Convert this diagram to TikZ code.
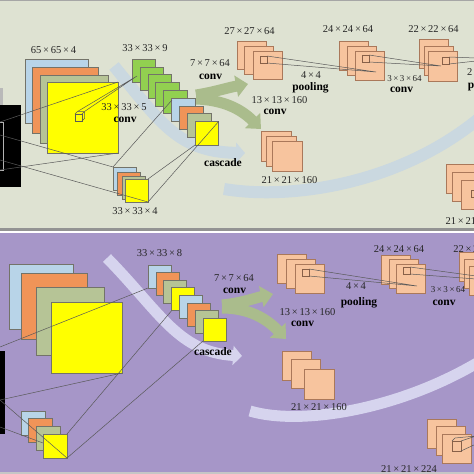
\documentclass[tikz,border=0pt]{standalone}
\usepackage{fontspec}
\setmainfont{Liberation Serif}
\usetikzlibrary{arrows.meta}
\definecolor{bgtop}{RGB}{222,226,210}
\definecolor{bgbot}{RGB}{166,150,200}
\definecolor{cblue}{RGB}{184,212,232}
\definecolor{corange}{RGB}{240,148,88}
\definecolor{colive}{RGB}{182,196,150}
\definecolor{cyellow}{RGB}{255,255,0}
\definecolor{cgreen}{RGB}{146,208,80}
\definecolor{cpeach}{RGB}{247,196,158}
\definecolor{cpeachb}{RGB}{170,120,90}
\definecolor{bandtop}{RGB}{202,216,224}
\definecolor{bandbot}{RGB}{214,212,238}
\definecolor{forkc}{RGB}{170,188,140}
\definecolor{edgec}{RGB}{115,115,105}
\newcommand{\byx}{\hspace{0.17em}×\hspace{0.17em}}
\tikzset{
  box/.style={draw=edgec, line width=0.5pt, inner sep=0pt, outer sep=0pt, anchor=north west},
  sz/.style={minimum width=#1, minimum height=#1},
  wh/.style n args={2}{minimum width=#1, minimum height=#2},
  pe/.style={box, draw=cpeachb, fill=cpeach},
  pesm/.style={draw=cpeachb!80!black, line width=0.5pt, inner sep=0pt, outer sep=0pt, anchor=north west, minimum width=7pt, minimum height=7pt},
  lbl/.style={font=\fontsize{10.5}{12}\selectfont, text=black!85, inner sep=0pt},
  slbl/.style={font=\fontsize{9}{10}\selectfont, text=black!85, inner sep=0pt},
  blbl/.style={font=\bfseries\fontsize{11.5}{13}\selectfont, text=black, inner sep=0pt},
  conn/.style={draw=black!65, line width=0.5pt},
  bandT/.style={draw=bandtop, line width=12pt},
  bandB/.style={draw=bandbot, line width=11pt},
  forkarr/.style={draw=forkc, line width=11pt, -{Triangle[width=21pt,length=12pt]}}
}
\begin{document}
\begin{tikzpicture}[x=1pt,y=-1pt]
\useasboundingbox (0,0) rectangle (474,474);
\clip (0,0) rectangle (474,474);
% backgrounds
\fill[bgtop] (0,0) rectangle (474,228);
\fill[black!35] (0,0) rectangle (474,1.2);
\fill[gray!85] (0,228) rectangle (474,230.5);
\fill[white] (0,230.5) rectangle (474,232.5);
\fill[bgbot] (0,232.5) rectangle (474,474);
\fill[gray!45] (0,471.8) rectangle (474,474);

% ---------- bands ----------
\draw[bandT, -{Triangle[width=20pt,length=9pt]}] (114,66) .. controls (160,122) and (178,152) .. (245,153);
\draw[bandT] (224,189) .. controls (290,200) and (400,185) .. (482,116);
\draw[bandB, -{Triangle[width=19pt,length=9pt]}] (107,258) .. controls (160,312) and (178,352) .. (242,356);
\draw[bandB] (250,411) .. controls (300,426) and (400,410) .. (482,360);

% ---------- forks ----------
\draw[forkarr] (196,95) .. controls (215,92) and (226,88) .. (248,84);
\draw[forkarr] (196,99) .. controls (222,100) and (240,108) .. (261,129);
\draw[forkarr] (222,305) .. controls (242,303) and (255,298) .. (273,294);
\draw[forkarr] (222,308) .. controls (248,308) and (266,318) .. (286,339);

% ================= TOP PANEL =================
\fill[gray!55] (0,88) rectangle (3,105);
\node[box, draw=none, fill=black, wh={21pt}{82pt}] (tIn) at (0,105) {};
\draw[gray!60, line width=0.5pt] (-1,122) rectangle (3,170);

\node[box, fill=cblue,   wh={63pt}{64pt}] (tB1) at (25,59) {};
\node[box, fill=corange, sz=66pt] (tB2) at (32,67) {};
\node[box, fill=colive,  sz=68pt] (tB3) at (40,75) {};
\node[box, fill=cyellow, sz=71pt] (tB4) at (47,82) {};

\foreach \c [count=\i] in {cgreen,cgreen,cgreen,cgreen,cgreen,cblue,corange,colive,cyellow}
  \node[box, fill=\c, sz=23.5pt] (t9-\i) at ({132+7.9*(\i-1)},{59+7.8*(\i-1)}) {};

\node[box, fill=cblue,   sz=23pt] (t4-1) at (113,167) {};
\node[box, fill=corange, sz=23pt] (t4-2) at (117,172) {};
\node[box, fill=colive,  sz=23pt] (t4-3) at (122,176) {};
\node[box, fill=cyellow, sz=23pt] (t4-4) at (125,179) {};

% small cube in big yellow
\node[box, draw=edgec!80!black, sz=7pt] (tcube) at (75,114) {};
\coordinate (tcA) at (77.5,111.5);
\coordinate (tcB) at (84.5,111.5);
\draw[conn] (tcube.north west) -- (tcA) -- (tcB) -- (tcube.north east) (tcB) -- (84.5,118.5) -- (tcube.south east);
\coordinate (t9tgt) at (137,76);
\draw[conn] (tcA) -- (t9tgt) (tcB) -- (t9tgt);

% peach stacks top
\node[pe, wh={29pt}{28pt}] (t27-1) at (237,41) {};
\node[pe, wh={29pt}{28pt}] (t27-2) at (244,46) {};
\node[pe, wh={29pt}{28pt}] (t27-3) at (253,51) {};
\node[pesm] (t27s) at (260,56) {};
\node[pe, wh={29pt}{29pt}] (t24-1) at (339,41) {};
\node[pe, wh={29pt}{29pt}] (t24-2) at (347,46) {};
\node[pe, wh={29pt}{29pt}] (t24-3) at (355,51) {};
\node[pesm] (t24s) at (362,55) {};
\node[pe, wh={29pt}{29pt}] (t22-1) at (419,39) {};
\node[pe, wh={29pt}{29pt}] (t22-2) at (424,46) {};
\node[pe, wh={29pt}{30pt}] (t22-3) at (428,51) {};
\node[pesm] (t22s) at (442,57) {};
\node[pe, sz=30pt] (t160-1) at (261,131) {};
\node[pe, sz=30pt] (t160-2) at (266,136) {};
\node[pe, sz=30pt] (t160-3) at (272,141) {};
\node[pe, sz=29pt] (t224-1) at (446,164) {};
\node[pe, sz=29pt] (t224-2) at (452,172) {};
\node[pe, sz=29pt] (t224-3) at (461,180) {};
\node[pesm] (t224s) at (471,190) {};

% connectors top
\coordinate (tI1) at (0,122);
\coordinate (tI2) at (0,135);
\coordinate (tI3) at (0,160);
\coordinate (tI4) at (0,170);
\draw[conn] (tI1) -- (tB4.north east);
\draw[conn] (tI2) -- (t4-1.north west);
\draw[conn] (tI4) -- (tB4.south east);
\draw[conn] (tI3) -- (t4-4.south east);
\coordinate (t9blue) at (172,100);
\draw[conn] (t4-1.north west) -- (t9blue);
\draw[conn] (t4-4.north east) -- (t9-9.south west);
\draw[conn] (t4-4.south east) -- (t9-9.north east);
\coordinate (t24tgt) at (376,72);
\coordinate (t22tgt) at (441,66);
\coordinate (tR1) at (476,58);
\coordinate (tR2) at (476,61);
\draw[conn] (t27s.north east) -- (t24tgt) (t27s.south east) -- (t24tgt);
\draw[conn] (t24s.north east) -- (t22tgt) (t24s.south east) -- (t22tgt);
\draw[conn] (t22s.north east) -- (tR1) (t22s.south east) -- (tR2);

% labels top
\node[lbl] (L1) at (53.5,50) {65\byx65\byx4};
\node[lbl] (L2) at (145,48) {33\byx33\byx9};
\node[lbl] (L3) at (124,107) {33\byx33\byx5};
\node[blbl] (L4) at (125,119.5) {conv};
\node[lbl] (L5) at (135,211) {33\byx33\byx4};
\node[lbl] (L6) at (210,63.5) {7\byx7\byx64};
\node[blbl] (L7) at (210.5,77) {conv};
\node[blbl] (L8) at (223,163) {cascade};
\node[lbl] (L9) at (249.5,31) {27\byx27\byx64};
\node[lbl] (L10) at (279.5,100.5) {13\byx13\byx160};
\node[blbl] (L11) at (275,112) {conv};
\node[lbl] (L12) at (311,75.5) {4\byx4};
\node[blbl] (L13) at (310.5,87.5) {pooling};
\node[lbl] (L14) at (348,29) {24\byx24\byx64};
\node[slbl] (L15) at (404.5,79) {3\byx3\byx64};
\node[blbl] (L16) at (401.5,90) {conv};
\node[lbl] (L17) at (433.5,29) {22\byx22\byx64};
\node[lbl] (L18) at (477,72) {2\byx2};
\node[blbl] (L19) at (486,86) {pooling};
\node[lbl] (L20) at (289.5,180) {21\byx21\byx160};
\node[lbl] (L21) at (473.5,221) {21\byx21\byx224};

% ================= BOTTOM PANEL =================
\node[box, draw=none, fill=black, wh={5pt}{83pt}] (bIn) at (0,351) {};

\node[box, fill=cblue,   wh={64pt}{65pt}] (bB1) at (9,264) {};
\node[box, fill=corange, sz=66pt] (bB2) at (21,273) {};
\node[box, fill=colive,  sz=68pt] (bB3) at (36,287) {};
\node[box, fill=cyellow, sz=71pt] (bB4) at (51,302) {};

\foreach \c [count=\i] in {cblue,corange,colive,cyellow,cblue,corange,colive,cyellow}
  \node[box, fill=\c, sz=23pt] (b8-\i) at ({148+7.86*(\i-1)},{265+7.57*(\i-1)}) {};

\node[box, fill=cblue,   sz=24pt] (b4-1) at (21,411) {};
\node[box, fill=corange, sz=24pt] (b4-2) at (28,418) {};
\node[box, fill=colive,  sz=24pt] (b4-3) at (36,426) {};
\coordinate (bI4) at (0,427);
\coordinate (b4w) at (43,443);
\draw[conn] (bI4) -- (b4w);
\node[box, fill=cyellow, sz=24pt] (b4-4) at (43,434) {};

\node[pe, sz=29pt] (b27-1) at (277,254) {};
\node[pe, sz=29pt] (b27-2) at (286,259) {};
\node[pe, sz=29pt] (b27-3) at (295,264) {};
\node[pesm] (b27s) at (302,269) {};
\node[pe, sz=29pt] (b24-1) at (381,255) {};
\node[pe, sz=29pt] (b24-2) at (389,259) {};
\node[pe, sz=29pt] (b24-3) at (396,264) {};
\node[pesm] (b24s) at (403,267) {};
\node[pe, sz=29pt] (b22-1) at (459,252) {};
\node[pe, sz=29pt] (b22-2) at (464,259) {};
\node[pe, sz=29pt] (b22-3) at (469,266) {};
\node[pe, sz=29pt] (b160-1) at (282,351) {};
\node[pe, sz=29pt] (b160-2) at (291,359) {};
\node[pe, sz=30pt] (b160-3) at (304,369) {};
\node[pe, sz=29pt] (b224-1) at (427,419) {};
\node[pe, sz=29pt] (b224-2) at (436,426) {};
\node[pe, sz=29pt] (b224-3) at (442,434) {};
\node[pesm, minimum width=9pt, minimum height=10pt] (b224s) at (452,441) {};
\coordinate (bcA) at (476,436);
\coordinate (bcB) at (476,444);
\draw[conn] (b224s.north east) -- (bcA) (b224s.north west) -- (455,438) -- (bcA);
\draw[conn] (b224s.south east) -- (bcB);

% connectors bottom
\coordinate (bI1) at (0,347);
\coordinate (bI2) at (0,400);
\draw[conn] (bI1) -- (b8-1.south west);
\draw[conn] (bI2) -- (bB4.south east);
\draw[conn] (bI2) -- (b4-4.south east);
\draw[conn] (b4-4.north east) -- (b8-4.south west);
\draw[conn] (b4-4.south east) -- (b8-8.south west);
\coordinate (b24tgt) at (417,286);
\coordinate (bR1) at (476,276);
\coordinate (bR2) at (476,279);
\draw[conn] (b27s.north east) -- (b24tgt) (b27s.south east) -- (b24tgt);
\draw[conn] (b24s.north east) -- (bR1) (b24s.south east) -- (bR2);

% labels bottom
\node[lbl] (M1) at (159.5,253) {33\byx33\byx8};
\node[lbl] (M2) at (234,278.5) {7\byx7\byx64};
\node[blbl] (M3) at (234.5,290.5) {conv};
\node[blbl] (M4) at (213,352) {cascade};
\node[lbl] (M5) at (356,286) {4\byx4};
\node[blbl] (M6) at (359,303) {pooling};
\node[lbl] (M7) at (307.5,312) {13\byx13\byx160};
\node[blbl] (M8) at (302.5,324) {conv};
\node[lbl] (M9) at (399,249) {24\byx24\byx64};
\node[slbl] (M10) at (448,290) {3\byx3\byx64};
\node[blbl] (M11) at (444,303) {conv};
\node[lbl] (M12) at (478.5,249) {22\byx22\byx64};
\node[lbl] (M13) at (319,407) {21\byx21\byx160};
\node[lbl] (M14) at (409,469) {21\byx21\byx224};
\end{tikzpicture}
\end{document}
